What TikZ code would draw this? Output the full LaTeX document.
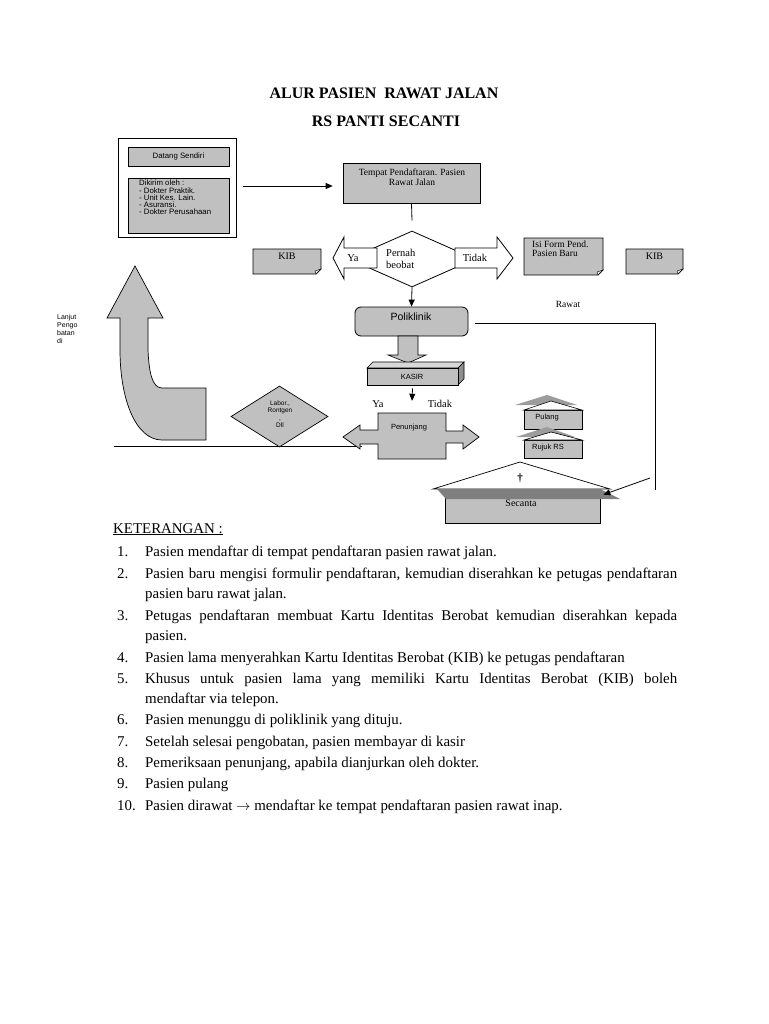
\documentclass[tikz,border=0pt]{standalone}
\usepackage{fontspec}
\setmainfont{Liberation Serif}
\newfontfamily\sansf{Liberation Sans}
\usetikzlibrary{arrows.meta,shapes.geometric,calc}
\definecolor{boxgray}{HTML}{C0C0C0}
\definecolor{bandgray}{HTML}{7F7F7F}
\definecolor{roofgray}{HTML}{9C9C9C}
\definecolor{foldgray}{HTML}{E6E6E6}
\definecolor{topgray}{HTML}{D8D8D8}
\definecolor{sidegray}{HTML}{8E8E8E}
\newcommand{\fsz}[2]{\fontsize{#1}{#2}\selectfont}
\newcommand{\foldbox}[6]{%
  \filldraw[fill=boxgray,draw=black,line width=0.7pt] (#2,#3) -- (#4,#3) -- (#4,#5-5) -- (#4-5,#5) -- (#2,#5) -- cycle;
  \filldraw[fill=foldgray,draw=black,line width=0.4pt] (#4,#5-5) -- (#4-6,#5-3) -- (#4-5,#5) -- cycle;
  \node[lbl,anchor=north] (#1) at ({(#2+#4)/2},#3+4) {#6};}
\begin{document}
\begin{tikzpicture}[x=1pt,y=-1pt,
  gbox/.style={draw=black,fill=boxgray,line width=0.7pt,inner sep=0pt},
  conn/.style={line width=0.8pt,draw=black},
  tipped/.style={-{Triangle[length=7pt,width=6pt]}},
  lbl/.style={inner sep=0pt,font=\fsz{10}{11}},
  sml/.style={inner sep=0pt,font=\sansf\fsz{7.5}{7.5}},
  item/.style={inner sep=0pt,anchor=base west,font=\fsz{14.9}{16}}]
\fill[white] (0,0) rectangle (768,1024);
\useasboundingbox (0,0) rectangle (768,1024);

% title
\node[inner sep=0pt,font=\bfseries\fsz{16}{18}] (title1) at (384,93) {ALUR PASIEN\ \ RAWAT JALAN};
\node[inner sep=0pt,font=\bfseries\fsz{16}{18}] (title2) at (386,121) {RS PANTI SECANTI};

% origin boxes
\node[draw=black,line width=0.8pt,fill=white,minimum width=118pt,minimum height=99pt,inner sep=0pt] (outer) at (177,187.5) {};
\node[gbox,minimum width=101pt,minimum height=19pt] (datang) at (178.5,156.5) {};
\node[sml,font=\sansf\fsz{7.8}{8}] (datangt) at (datang) {Datang Sendiri};
\node[gbox,minimum width=101pt,minimum height=55pt] (dikirim) at (178.5,205.5) {};
\node[sml,font=\sansf\fsz{7.8}{7.2},align=left,anchor=north west] (dikirimt) at (139,180) {Dikirim oleh :\\- Dokter Praktik.\\- Unit Kes. Lain.\\- Asuransi.\\- Dokter Perusahaan};

% registration
\node[gbox,minimum width=137pt,minimum height=40pt] (tempat) at (411.5,183) {};
\node[lbl,font=\fsz{9.5}{10},align=center] (tempatt) at (412,177) {Tempat Pendaftaran. Pasien\\Rawat Jalan};
\draw[conn,tipped] ([xshift=7pt,yshift=1.5pt]outer.east) -- ([xshift=-10pt,yshift=-3pt]tempat.west);

% decision
\node[diamond,draw=black,fill=white,line width=0.8pt,minimum width=126pt,minimum height=56pt,inner sep=0pt] (pernah) at (412,259) {};
\draw[conn] (tempat.south) -- ([yshift=10pt]pernah.north);
\filldraw[fill=white,draw=black,line width=0.8pt] (377,248) -- (344,248) -- (344,237) -- (333,258) -- (344,279) -- (344,268) -- (377,268) -- cycle;
\filldraw[fill=white,draw=black,line width=0.8pt] (455,248) -- (497,248) -- (497,237) -- (513,258) -- (497,279) -- (497,268) -- (455,268) -- cycle;
\node[lbl,font=\fsz{10.5}{11}] (ya1) at (353,258) {Ya};
\node[lbl,font=\fsz{10.5}{11}] (tidak1) at (475,258) {Tidak};
\node[lbl,font=\fsz{10.5}{12},align=left,anchor=west] (pernaht) at (386,259) {Pernah\\beobat};

% cards
\foldbox{kib1}{253}{249}{321}{274}{KIB}
\foldbox{kib2}{626}{249}{683}{274}{KIB}
\filldraw[fill=boxgray,draw=black,line width=0.7pt] (524,238) -- (603,238) -- (603,270) -- (598,275) -- (524,275) -- cycle;
\filldraw[fill=foldgray,draw=black,line width=0.4pt] (603,270) -- (597,272) -- (598,275) -- cycle;
\node[lbl,font=\fsz{9.5}{9},align=left,anchor=north west] (isiform) at (532,241) {Isi Form Pend.\\Pasien Baru};
\node[lbl,font=\fsz{9.5}{10}] (rawat) at (568,304) {Rawat};

% poliklinik
\node[draw=black,fill=boxgray,rounded corners=6pt,line width=0.8pt,minimum width=113pt,minimum height=29pt,inner sep=0pt] (poli) at (411.5,321.5) {};
\node[inner sep=0pt,font=\sansf\fsz{10.5}{11}] (polit) at (411,317) {Poliklinik};
\draw[conn,tipped] (pernah.south) -- (poli.north);

% block arrow down to kasir
\filldraw[fill=boxgray,draw=black,line width=0.6pt] (398,336) -- (418,336) -- (418,355) -- (426,355) -- (408,363) -- (388,355) -- (398,355) -- cycle;

% kasir 3D
\filldraw[fill=topgray,draw=black,line width=0.6pt] (367,368) -- (373,362) -- (464,362) -- (458,368) -- cycle;
\filldraw[fill=sidegray,draw=black,line width=0.6pt] (458,368) -- (464,362) -- (464,379) -- (458,385) -- cycle;
\node[gbox,line width=0.6pt,minimum width=91pt,minimum height=17pt] (kasir) at (412.5,376.5) {};
\node[inner sep=0pt,font=\sansf\fsz{7.5}{8}] (kasirt) at (412,376.5) {KASIR};

% line from left
\coordinate (leftend) at (114,446);
\coordinate (penL) at (362,446);
\draw[conn] (leftend) -- (penL);

% penunjang
\node[minimum width=68pt,minimum height=46pt,inner sep=0pt] (penunjang) at (412,436) {};
\filldraw[fill=boxgray,draw=black,line width=0.7pt] (378,413) -- (446,413) -- (446,431) -- (463,431) -- (463,425) -- (479,437) -- (463,449) -- (463,443) -- (446,443) -- (446,459) -- (378,459) -- (378,444) -- (360,444) -- (360,449) -- (343,437) -- (360,425) -- (360,430) -- (378,430) -- cycle;
\node[inner sep=0pt,font=\sansf\fsz{7.5}{8}] (penunjangt) at (409,428) {Penunjang};
\draw[conn,tipped] ([yshift=-3pt]kasir.south) -- ([yshift=12pt]penunjang.north);
\node[lbl,font=\fsz{10.5}{11}] (ya2) at (378,404) {Ya};
\node[lbl,font=\fsz{10.5}{11}] (tidak2) at (440,404) {Tidak};

% labor diamond
\node[diamond,draw=black,fill=boxgray,line width=0.7pt,minimum width=97pt,minimum height=61pt,inner sep=0pt] (labor) at (279.5,416.5) {};
\node[inner sep=0pt,font=\sansf\fsz{6.5}{7.3},align=center] (labort) at (280,414) {Labor.,\\Rontgen\\,\\Dll};

% big curved arrow
\filldraw[fill=boxgray,draw=black,line width=0.7pt] (135,266) -- (163,318) -- (148,318) -- (148,350) .. controls (149,372) and (152,388) .. (162,388) -- (206,388) -- (206,440) -- (162,440) .. controls (136,440) and (120,400) .. (120,350) -- (120,318) -- (107,318) -- cycle;
\node[inner sep=0pt,font=\sansf\fsz{7}{8},align=left,anchor=north west] (lanjut) at (57,314) {Lanjut\\Pengo\\batan\\di};

% pulang house
\fill[roofgray] (515,405) -- (547,395) -- (577,405) -- cycle;
\node[gbox,minimum width=58pt,minimum height=19pt] (pulang) at (553,419.5) {};
\filldraw[fill=white,draw=black,line width=0.6pt] (524,410) -- (551,401) -- (582,410) -- cycle;
\node[inner sep=0pt,font=\sansf\fsz{7.5}{8}] (pulangt) at (547,418) {Pulang};

% rujuk house
\fill[roofgray] (516,437) -- (547,427) -- (575,437) -- cycle;
\node[gbox,minimum width=58pt,minimum height=18pt] (rujuk) at (553,449) {};
\filldraw[fill=white,draw=black,line width=0.6pt] (524,440) -- (551,432) -- (582,440) -- cycle;
\node[inner sep=0pt,font=\sansf\fsz{7.5}{8}] (rujukt) at (548,448) {Rujuk RS};

% secanta house
\node[gbox,minimum width=155pt,minimum height=36pt] (secanta) at (522.5,505) {};
\filldraw[fill=white,draw=black,line width=0.7pt] (433,489) -- (520,462) -- (610,489) -- cycle;
\fill[bandgray] (437,489) -- (600,489) -- (620,499) -- (446,499) -- cycle;
\node[inner sep=0pt,font=\bfseries\fsz{11}{11}] (cross) at (520,478) {\dag};
\node[lbl,font=\fsz{10}{10}] (secantat) at (521,503) {Secanta};

% connector poliklinik -> rawat inap
\coordinate (rc2) at (655,490);
\draw[conn] ([xshift=7pt,yshift=-1.5pt]poli.east) -| (rc2);
\coordinate (arrS) at (650,478);
\draw[conn,tipped] (arrS) -- ([xshift=3pt,yshift=-8pt]secanta.north east);

% keterangan
\node[inner sep=0pt,anchor=base west,font=\fsz{14.9}{16}] (ket) at (113,533) {\underline{KETERANGAN :}};
\node[item] (n1) at (117,556) {1.};
\node[item] (l1) at (145,556) {Pasien mendaftar di tempat pendaftaran pasien rawat jalan.};
\node[item] (n2) at (117,578) {2.};
\node[item] (l2a) at (145,578) {\makebox[532pt][s]{Pasien baru mengisi formulir pendaftaran, kemudian diserahkan ke petugas pendaftaran}};
\node[item] (l2b) at (145,598) {pasien baru rawat jalan.};
\node[item] (n3) at (117,620) {3.};
\node[item] (l3a) at (145,620) {\makebox[532pt][s]{Petugas pendaftaran membuat Kartu Identitas Berobat kemudian diserahkan kepada}};
\node[item] (l3b) at (145,640) {pasien.};
\node[item] (n4) at (117,662) {4.};
\node[item] (l4) at (145,662) {Pasien lama menyerahkan Kartu Identitas Berobat (KIB) ke petugas pendaftaran};
\node[item] (n5) at (117,683) {5.};
\node[item] (l5a) at (145,683) {\makebox[532pt][s]{Khusus untuk pasien lama yang memiliki Kartu Identitas Berobat (KIB) boleh}};
\node[item] (l5b) at (145,703) {mendaftar via telepon.};
\node[item] (n6) at (117,724) {6.};
\node[item] (l6) at (145,724) {Pasien menunggu di poliklinik yang dituju.};
\node[item] (n7) at (117,746) {7.};
\node[item] (l7) at (145,746) {Setelah selesai pengobatan, pasien membayar di kasir};
\node[item] (n8) at (117,767) {8.};
\node[item] (l8) at (145,767) {Pemeriksaan penunjang, apabila dianjurkan oleh dokter.};
\node[item] (n9) at (117,788) {9.};
\node[item] (l9) at (145,788) {Pasien pulang};
\node[item] (n10) at (117,810) {10.};
\node[item] (l10) at (145,810) {Pasien dirawat $\rightarrow$ mendaftar ke tempat pendaftaran pasien rawat inap.};
\end{tikzpicture}
\end{document}
